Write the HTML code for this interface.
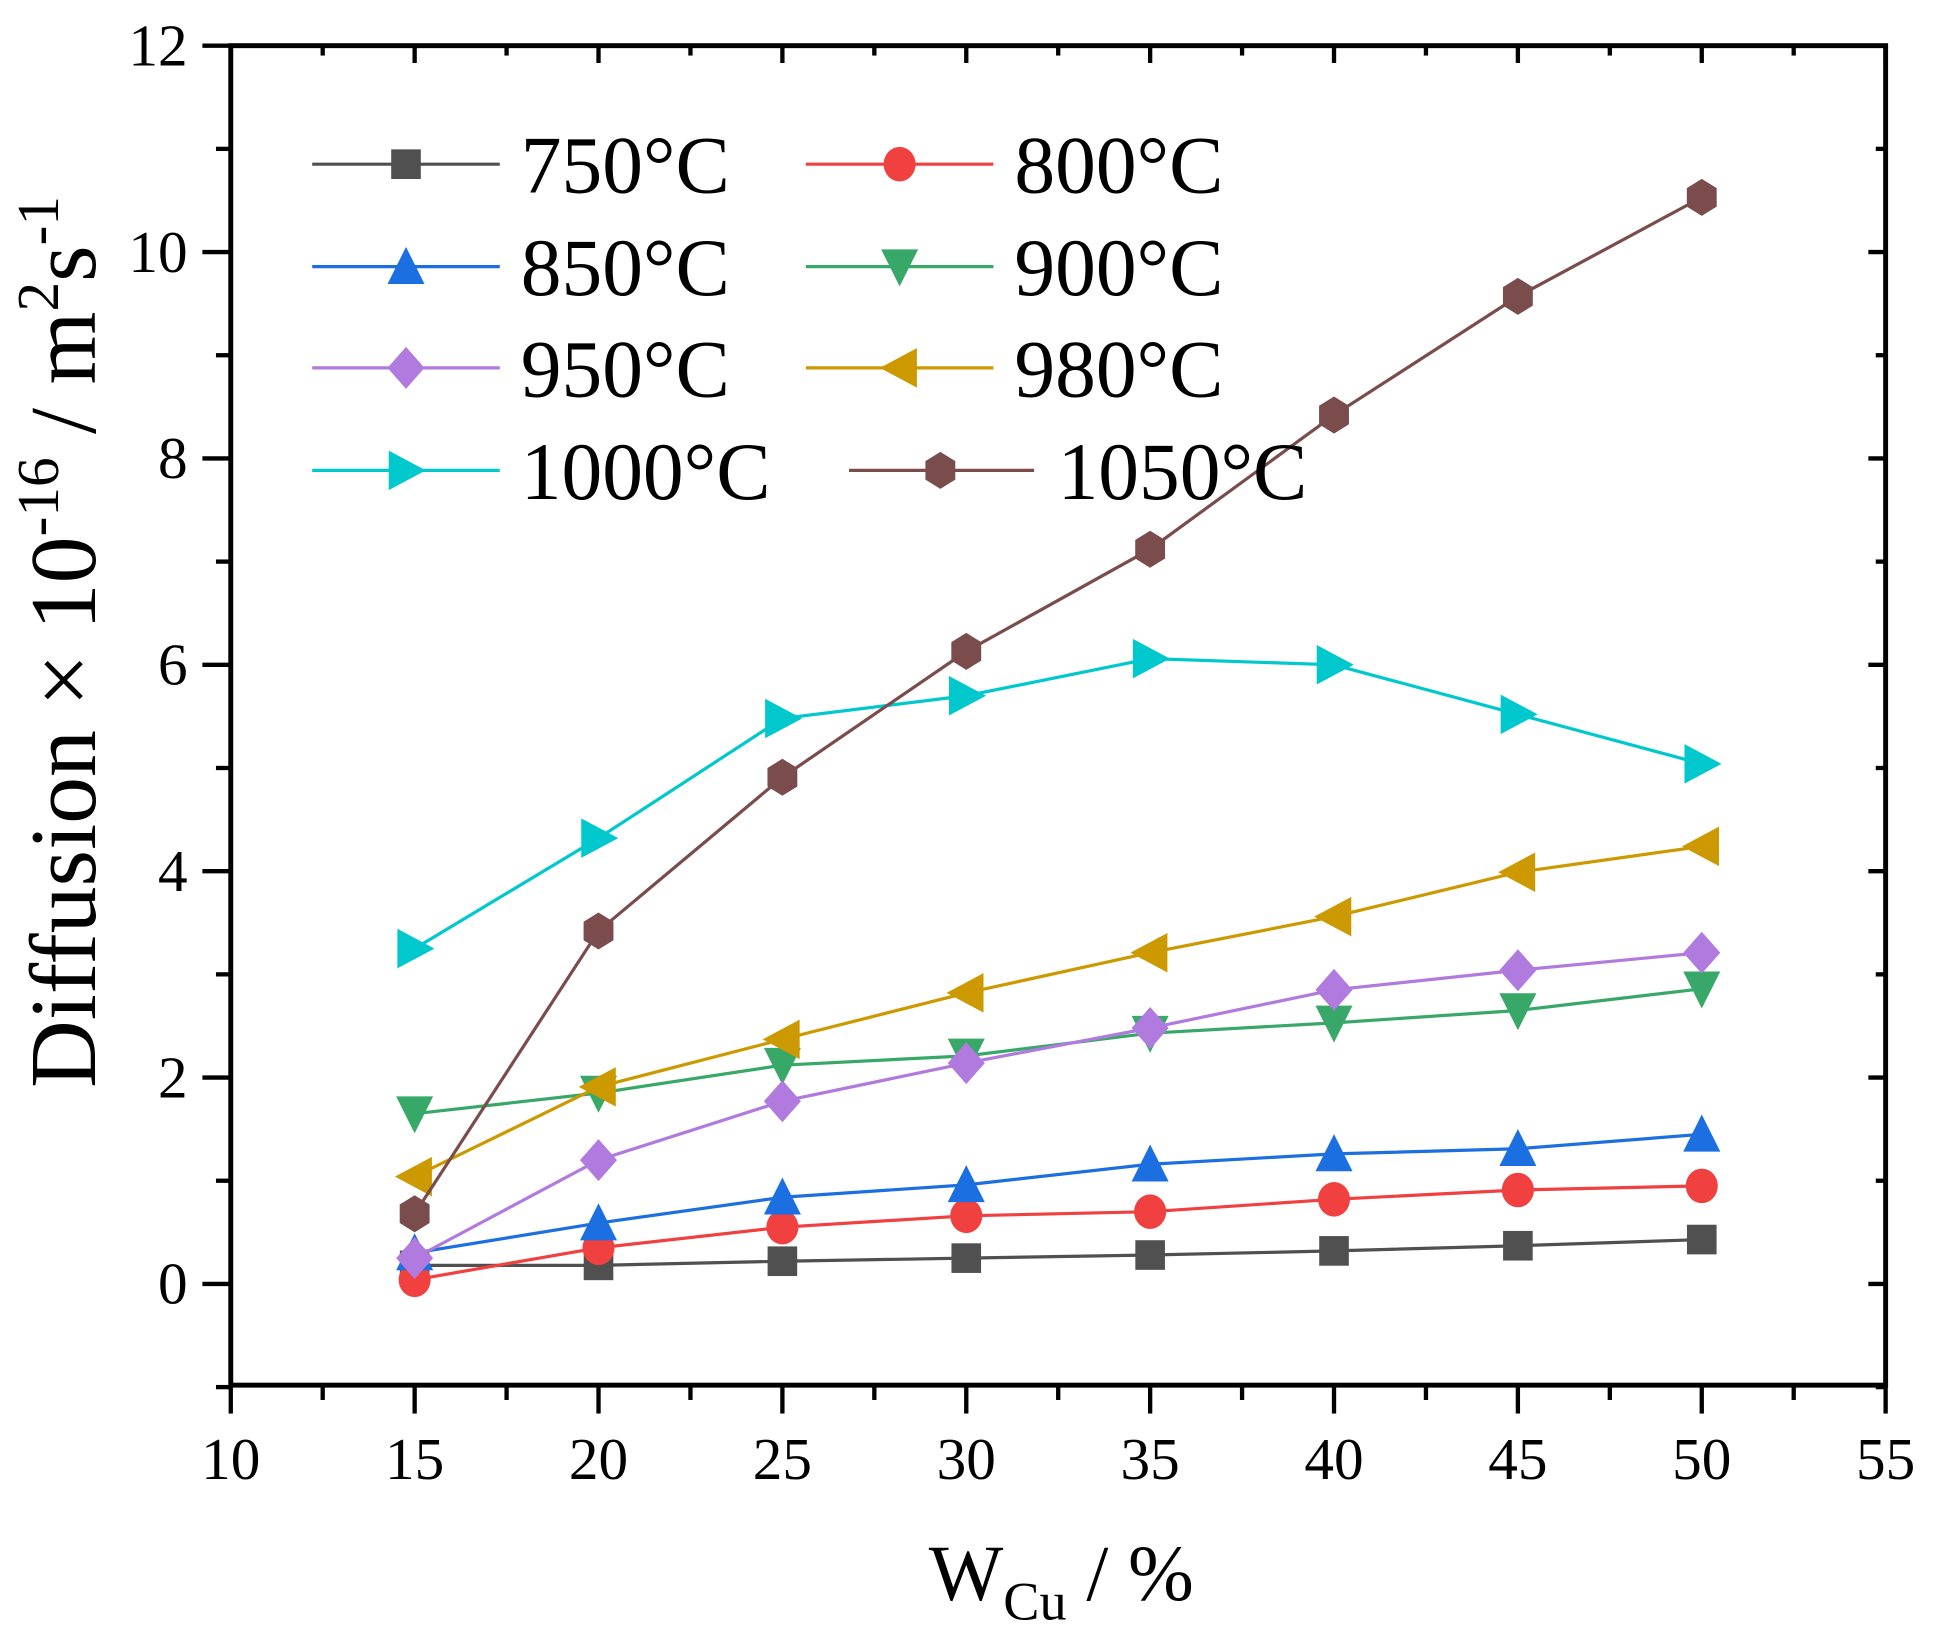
<!DOCTYPE html>
<html><head><meta charset="utf-8"><style>
html,body{margin:0;padding:0;background:#fff;}
svg{display:block;}
text{font-family:"Liberation Serif",serif;fill:#000;}
</style></head><body>
<svg id="s" width="1935" height="1637" viewBox="0 0 1568 1326" preserveAspectRatio="none" xmlns="http://www.w3.org/2000/svg"></svg>
<script>
const s=document.getElementById('s');
const X=v=>187+(v-10)*(1528-187)/45;
const Y=v=>1040-v*(1040-37)/12;
let h='';
for(let v=10;v<=55;v+=2.5){const x=X(v);const maj=(v%5===0);
 h+=`<line x1="${x}" y1="1122" x2="${x}" y2="${1122+(maj?23:12)}" stroke="#000" stroke-width="3.5"/>`;
 h+=`<line x1="${x}" y1="37" x2="${x}" y2="${37+(maj?14:8)}" stroke="#000" stroke-width="3.5"/>`;
 if(maj) h+=`<text x="${x}" y="1198" font-size="48" text-anchor="middle">${v}</text>`;}
for(let v=-1;v<=12;v+=1){const y=Y(v);const maj=(v%2===0);
 h+=`<line x1="187" y1="${y}" x2="${187-(maj?23:12)}" y2="${y}" stroke="#000" stroke-width="3.5"/>`;
 h+=`<line x1="1528" y1="${y}" x2="${1528-(maj?14:8)}" y2="${y}" stroke="#000" stroke-width="3.5"/>`;
 if(maj) h+=`<text x="152" y="${y+16}" font-size="48" text-anchor="end">${v}</text>`;}
h+=`<rect x="187" y="37" width="1341" height="1085" fill="none" stroke="#000" stroke-width="4"/>`;
const xs=[15,20,25,30,35,40,45,50];
const S=[
['750°C','#505050','sq',[0.18,0.18,0.22,0.25,0.28,0.32,0.37,0.43]],
['800°C','#f04040','ci',[0.04,0.35,0.55,0.66,0.70,0.82,0.91,0.95]],
['850°C','#1c6fe0','up',[0.30,0.59,0.84,0.96,1.16,1.26,1.31,1.45]],
['900°C','#38a868','dn',[1.65,1.85,2.12,2.21,2.43,2.53,2.65,2.86]],
['950°C','#b07ade','di',[0.25,1.20,1.77,2.14,2.48,2.85,3.04,3.21]],
['980°C','#cc9900','lf',[1.04,1.91,2.37,2.82,3.21,3.56,3.99,4.24]],
['1000°C','#00c8cc','rt',[3.25,4.32,5.48,5.70,6.06,6.00,5.52,5.04]],
['1050°C','#7a4c4c','hx',[0.68,3.42,4.91,6.13,7.12,8.42,9.57,10.53]]];
function mk(t,x,y,c){const r=14;
 switch(t){
 case 'sq':return `<rect x="${x-r+2}" y="${y-r+2}" width="${2*r-4}" height="${2*r-4}" fill="${c}"/>`;
 case 'ci':return `<ellipse cx="${x}" cy="${y}" rx="${r-1}" ry="${r}" fill="${c}"/>`;
 case 'up':return `<polygon points="${x},${y-r-2} ${x+r+1},${y+r} ${x-r-1},${y+r}" fill="${c}"/>`;
 case 'dn':return `<polygon points="${x},${y+r+2} ${x+r+1},${y-r} ${x-r-1},${y-r}" fill="${c}"/>`;
 case 'di':return `<polygon points="${x},${y-r-3} ${x+r+1},${y} ${x},${y+r+3} ${x-r-1},${y}" fill="${c}"/>`;
 case 'lf':return `<polygon points="${x-r-2},${y} ${x+r},${y-r-2} ${x+r},${y+r+2}" fill="${c}"/>`;
 case 'rt':return `<polygon points="${x+r+2},${y} ${x-r},${y-r-2} ${x-r},${y+r+2}" fill="${c}"/>`;
 case 'hx':{let p=[];for(let i=0;i<6;i++){const a=Math.PI/6+i*Math.PI/3;p.push((x+r*Math.cos(a)).toFixed(1)+','+(y+(r+1)*Math.sin(a)).toFixed(1));}return `<polygon points="${p.join(' ')}" fill="${c}"/>`;}
 }}
for(const [n,c,t,d] of S){
 h+=`<polyline fill="none" stroke="${c}" stroke-width="2.6" points="${xs.map((v,i)=>X(v)+','+Y(d[i])).join(' ')}"/>`;
 xs.forEach((v,i)=>h+=mk(t,X(v),Y(d[i]),c));}
const L=[[253,405,329,422,133],[653,805,729,822,133],[253,405,329,422,216],[653,805,729,822,216],[253,405,329,422,298],[653,805,729,822,298],[253,405,329,422,381],[688,838,762,857,381]];
S.forEach((se,i)=>{const [a,b,m,tx,y]=L[i];
 h+=`<line x1="${a}" y1="${y}" x2="${b}" y2="${y}" stroke="${se[1]}" stroke-width="2.6"/>`+mk(se[2],m,y,se[1]);
 h+=`<text x="${tx}" y="${y+23}" font-size="66">${se[0]}</text>`;});
h+=`<text transform="translate(77,520) rotate(-90)" font-size="76" text-anchor="middle">Diffusion × 10<tspan dy="-30" font-size="48">-16</tspan><tspan dy="30"> / m</tspan><tspan dy="-30" font-size="48">2</tspan><tspan dy="30">s</tspan><tspan dy="-30" font-size="48">-1</tspan></text>`;
h+=`<text x="860" y="1296" font-size="64" text-anchor="middle">W<tspan dy="16" font-size="44">Cu</tspan><tspan dy="-16"> / %</tspan></text>`;
s.innerHTML=h;
</script>
</body></html>
